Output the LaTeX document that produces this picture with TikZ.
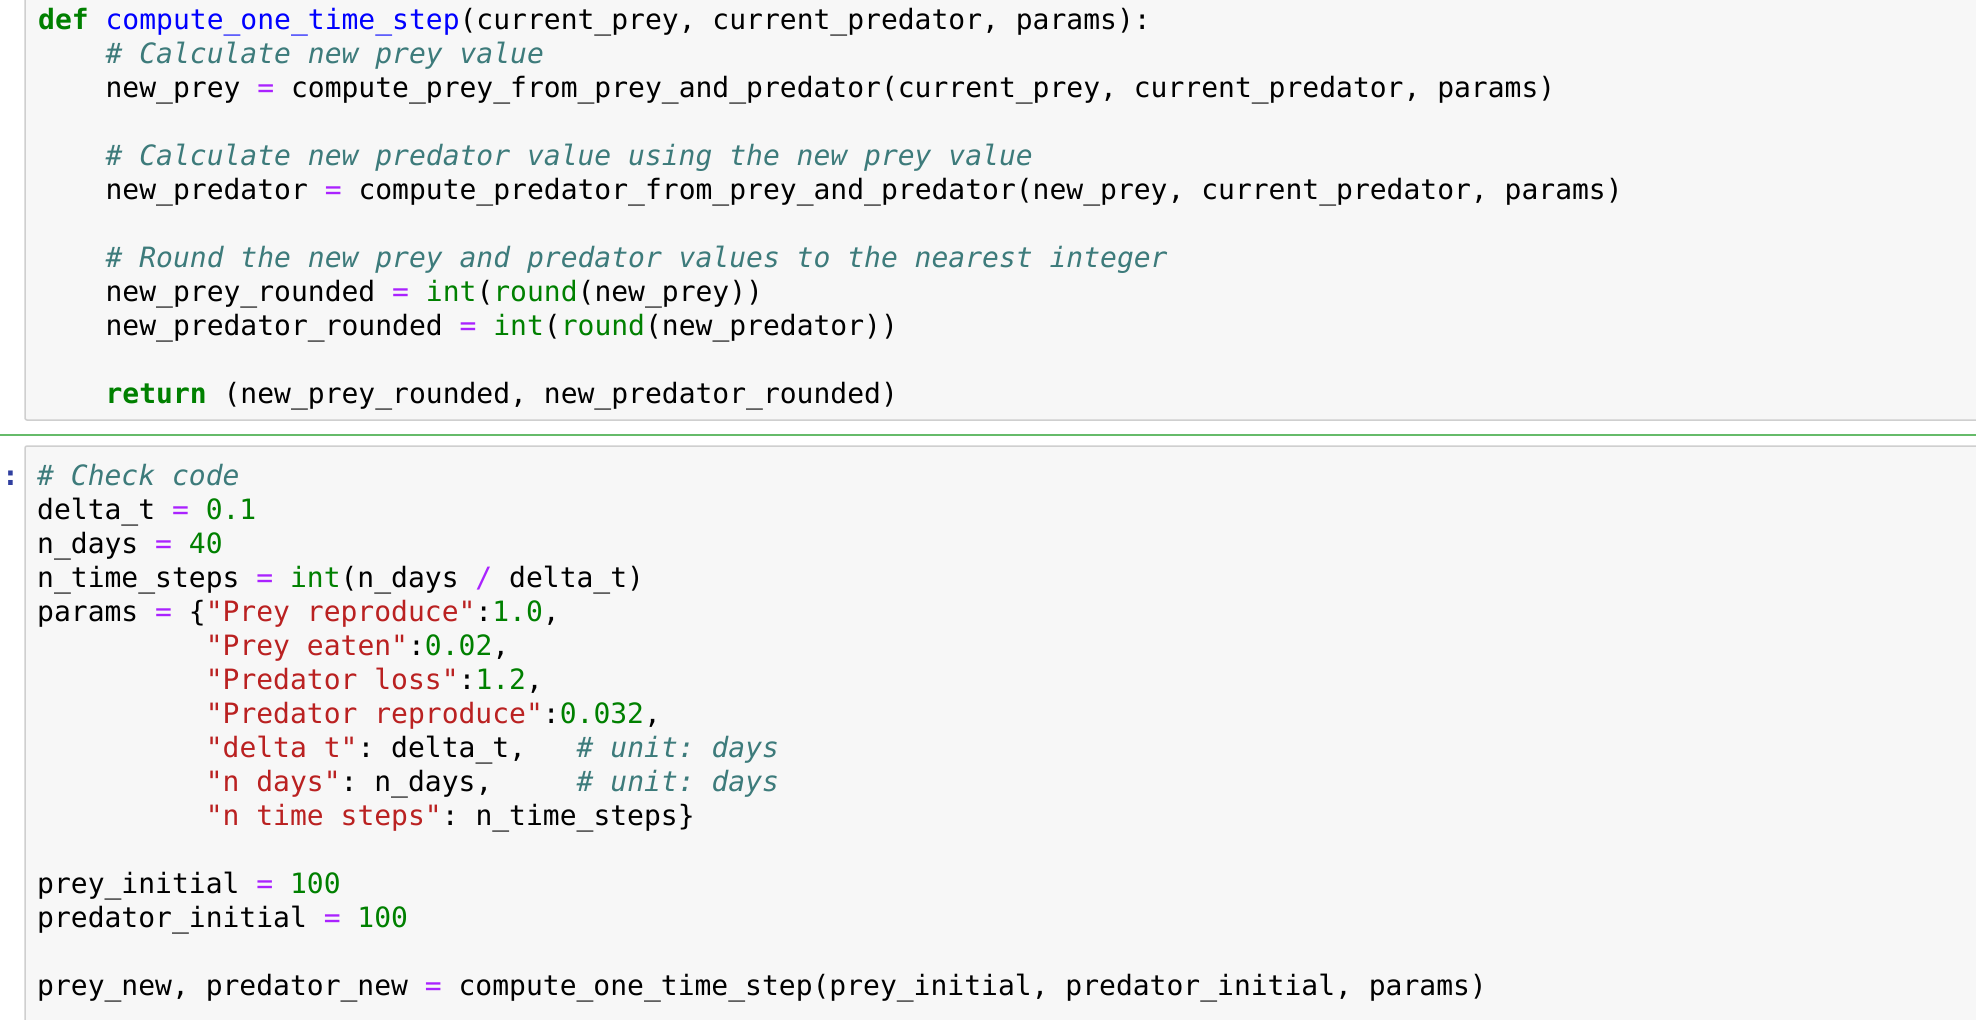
\documentclass[tikz,border=0pt]{standalone}
\usepackage{fontspec}
\setmonofont{DejaVu Sans Mono}
\definecolor{kwc}{HTML}{008000}
\definecolor{fnc}{HTML}{0000FF}
\definecolor{cmc}{HTML}{3D7B7B}
\definecolor{opc}{HTML}{AA22FF}
\definecolor{stc}{HTML}{BA2121}
\definecolor{cellbg}{HTML}{F7F7F7}
\definecolor{cellbd}{HTML}{CFCFCF}
\definecolor{sepc}{HTML}{66BB6A}
\definecolor{promptc}{HTML}{303F9F}
\newcommand\kw[1]{\textcolor{kwc}{\bfseries #1}}
\newcommand\fn[1]{\textcolor{fnc}{#1}}
\newcommand\cm[1]{\textcolor{cmc}{\itshape #1}}
\newcommand\op[1]{\textcolor{opc}{#1}}
\newcommand\nm[1]{\textcolor{kwc}{#1}}
\newcommand\bi[1]{\textcolor{kwc}{#1}}
\newcommand\st[1]{\textcolor{stc}{#1}}
\begin{document}
\begin{tikzpicture}[x=1pt,y=-1pt,
  code/.style={anchor=base west,inner sep=0pt,font=\ttfamily\fontsize{28}{34}\selectfont,text=black},
  cell/.style={draw=cellbd,line width=1.5pt,fill=cellbg,rounded corners=2pt}]
\useasboundingbox (0,0) rectangle (1976,1020);
\fill[white] (0,0) rectangle (1976,1020);
\draw[cell] (25,-10) rectangle (2000,420);
\draw[sepc,line width=2pt] (0,435) -- (1976,435);
\draw[cell] (25,446) rectangle (2000,1040);
% top cell
\def\bx{38}\def\cw{16.86}\def\by{29}\def\lh{34}
\node[code] (l1) at (\bx,\by+0*\lh) {\kw{def} \fn{compute\_one\_time\_step}(current\_prey, current\_predator, params):};
\node[code] (l2) at (\bx+4*\cw,\by+1*\lh) {\cm{\# Calculate new prey value}};
\node[code] (l3) at (\bx+4*\cw,\by+2*\lh) {new\_prey \op{=} compute\_prey\_from\_prey\_and\_predator(current\_prey, current\_predator, params)};
\node[code] (l5) at (\bx+4*\cw,\by+4*\lh) {\cm{\# Calculate new predator value using the new prey value}};
\node[code] (l6) at (\bx+4*\cw,\by+5*\lh) {new\_predator \op{=} compute\_predator\_from\_prey\_and\_predator(new\_prey, current\_predator, params)};
\node[code] (l8) at (\bx+4*\cw,\by+7*\lh) {\cm{\# Round the new prey and predator values to the nearest integer}};
\node[code] (l9) at (\bx+4*\cw,\by+8*\lh) {new\_prey\_rounded \op{=} \bi{int}(\bi{round}(new\_prey))};
\node[code] (l10) at (\bx+4*\cw,\by+9*\lh) {new\_predator\_rounded \op{=} \bi{int}(\bi{round}(new\_predator))};
\node[code] (l12) at (\bx+4*\cw,\by+11*\lh) {\kw{return} (new\_prey\_rounded, new\_predator\_rounded)};
% bottom cell
\def\cx{37}\def\cy{485}
\node[code,text=promptc] (pr) at (2,\cy) {\bfseries :};
\node[code] (m1) at (\cx,\cy+0*\lh) {\cm{\# Check code}};
\node[code] (m2) at (\cx,\cy+1*\lh) {delta\_t \op{=} \nm{0.1}};
\node[code] (m3) at (\cx,\cy+2*\lh) {n\_days \op{=} \nm{40}};
\node[code] (m4) at (\cx,\cy+3*\lh) {n\_time\_steps \op{=} \bi{int}(n\_days \op{/} delta\_t)};
\node[code] (m5) at (\cx,\cy+4*\lh) {params \op{=} \{\st{"Prey reproduce"}:\nm{1.0},};
\node[code] (m6) at (\cx+10*\cw,\cy+5*\lh) {\st{"Prey eaten"}:\nm{0.02},};
\node[code] (m7) at (\cx+10*\cw,\cy+6*\lh) {\st{"Predator loss"}:\nm{1.2},};
\node[code] (m8) at (\cx+10*\cw,\cy+7*\lh) {\st{"Predator reproduce"}:\nm{0.032},};
\node[code] (m9) at (\cx+10*\cw,\cy+8*\lh) {\st{"delta t"}: delta\_t,};
\node[code] (m9c) at (\cx+32*\cw,\cy+8*\lh) {\cm{\# unit: days}};
\node[code] (m10) at (\cx+10*\cw,\cy+9*\lh) {\st{"n days"}: n\_days,};
\node[code] (m10c) at (\cx+32*\cw,\cy+9*\lh) {\cm{\# unit: days}};
\node[code] (m11) at (\cx+10*\cw,\cy+10*\lh) {\st{"n time steps"}: n\_time\_steps\}};
\node[code] (m13) at (\cx,\cy+12*\lh) {prey\_initial \op{=} \nm{100}};
\node[code] (m14) at (\cx,\cy+13*\lh) {predator\_initial \op{=} \nm{100}};
\node[code] (m16) at (\cx,\cy+15*\lh) {prey\_new, predator\_new \op{=} compute\_one\_time\_step(prey\_initial, predator\_initial, params)};
\end{tikzpicture}
\end{document}
